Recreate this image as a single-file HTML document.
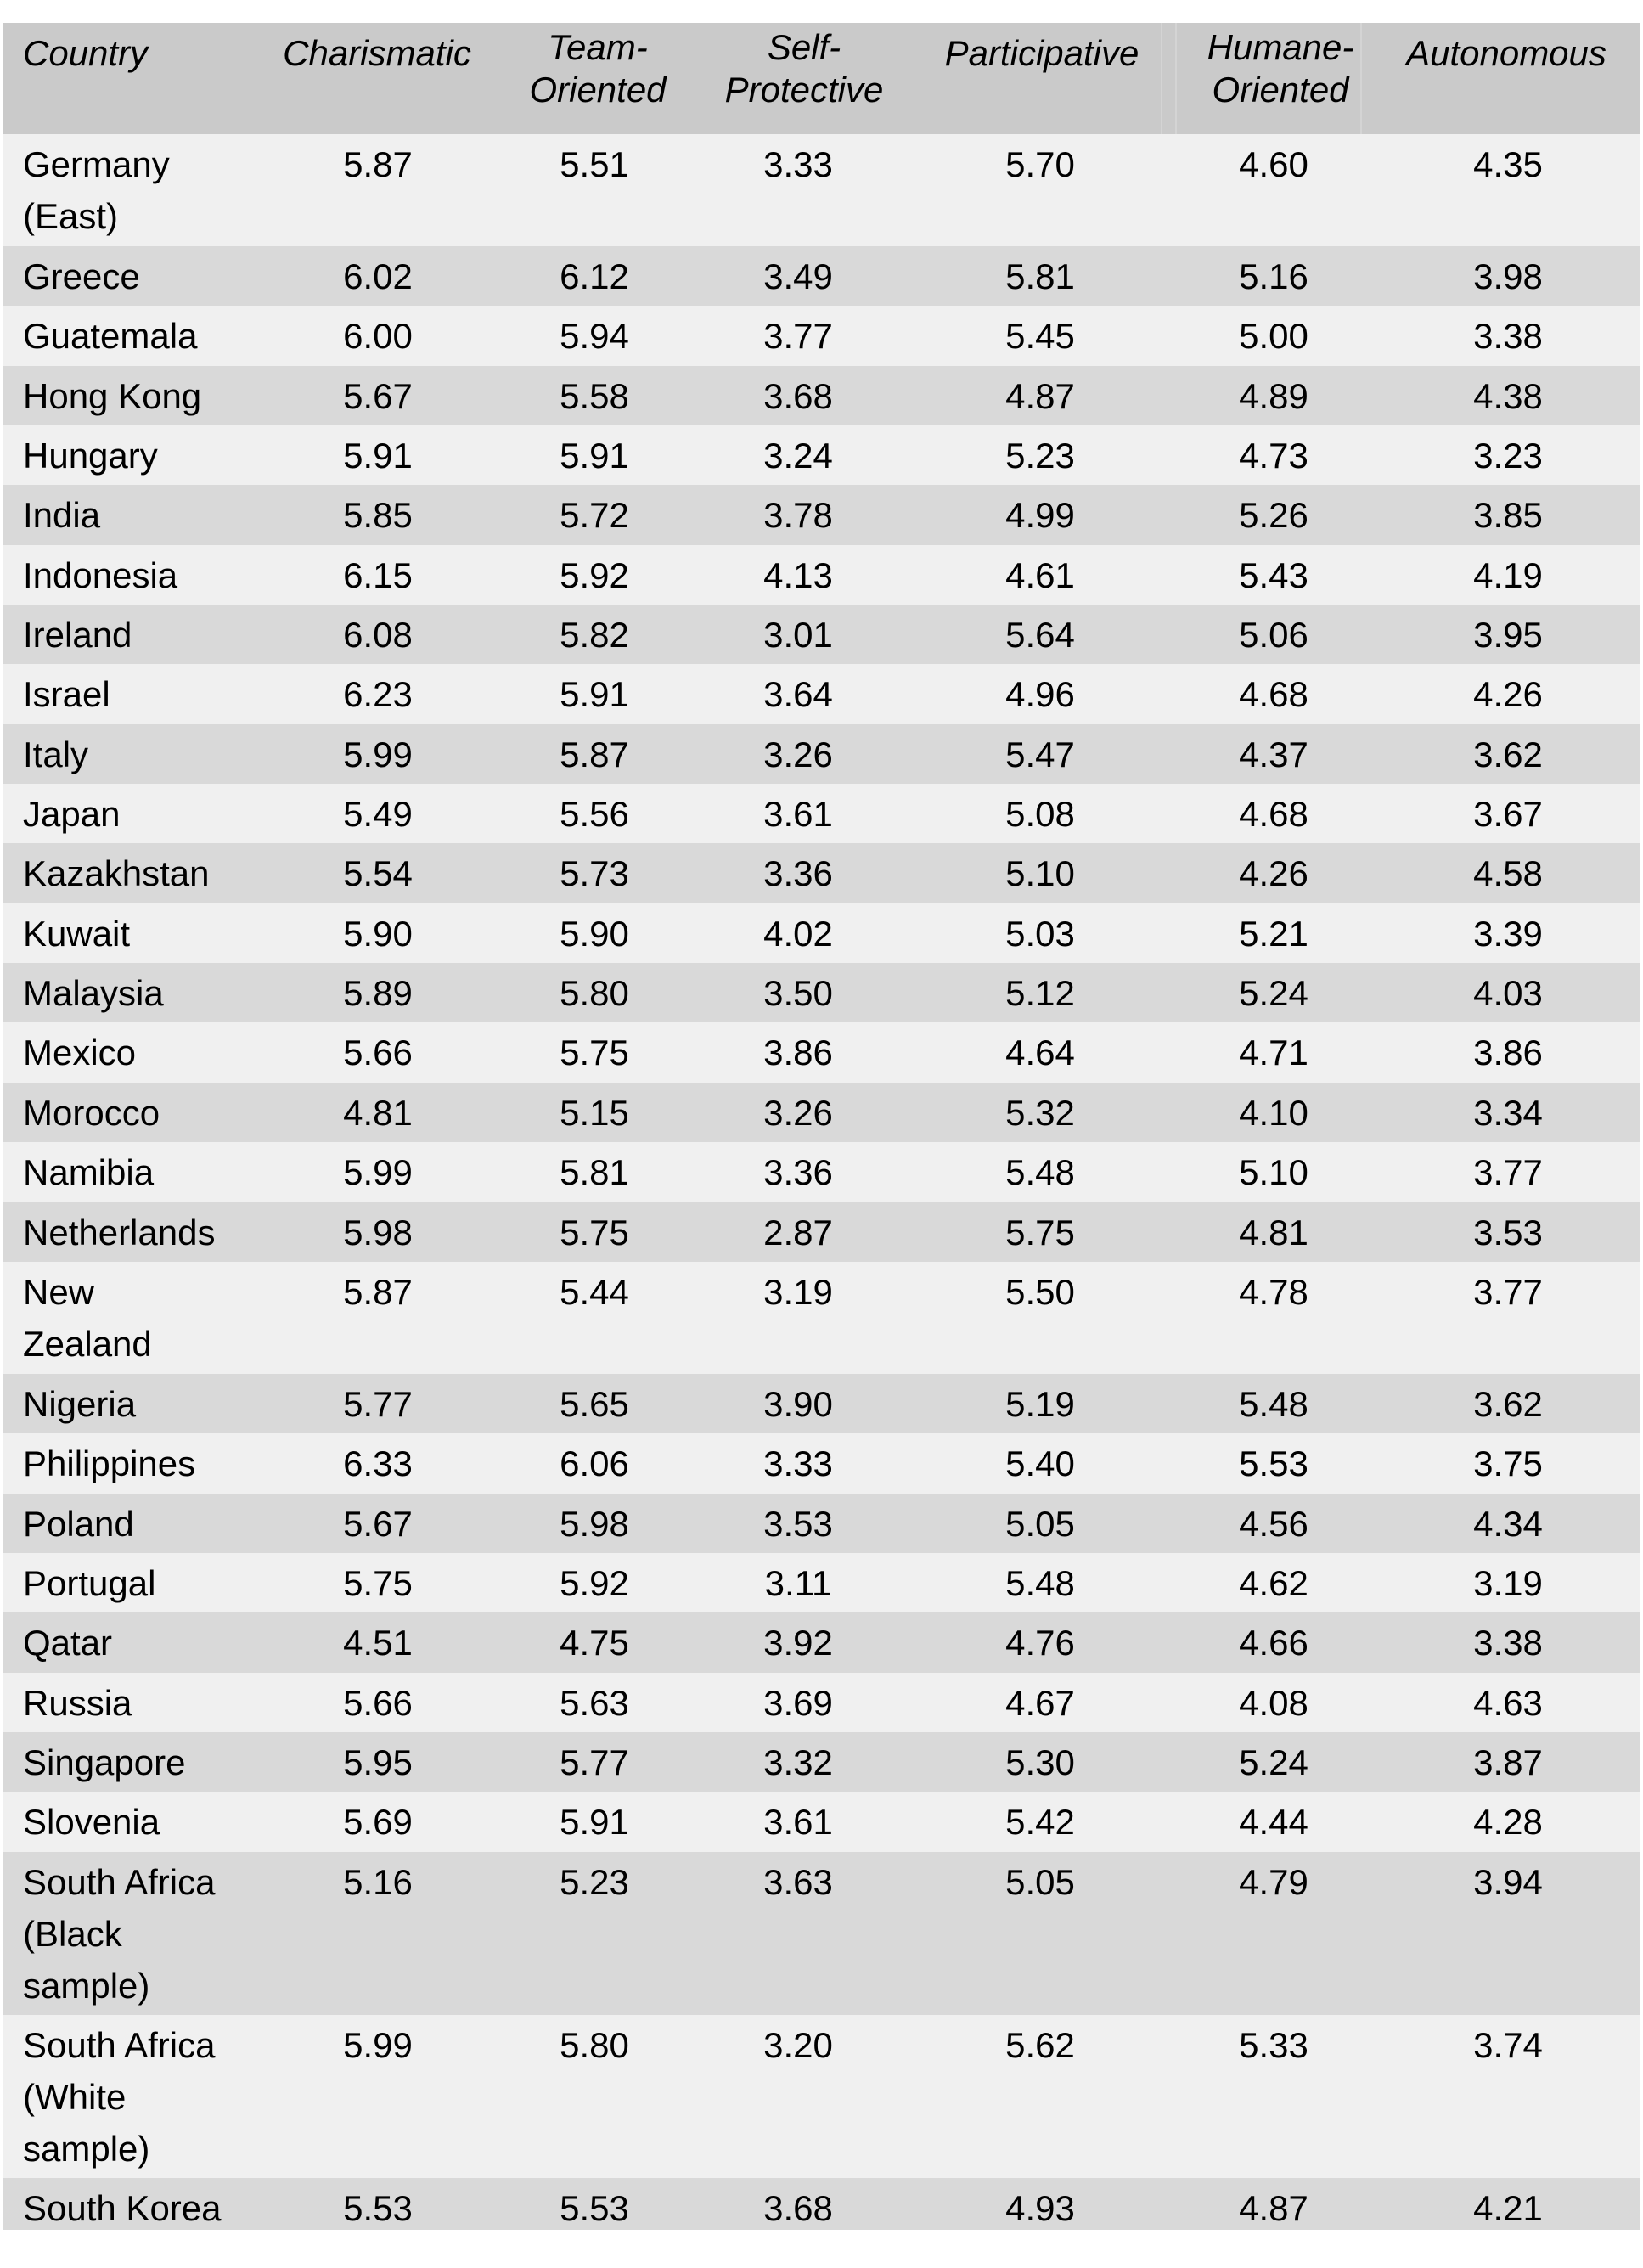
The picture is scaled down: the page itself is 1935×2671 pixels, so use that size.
<!DOCTYPE html>
<html><head><meta charset="utf-8"><style>
html,body{margin:0;padding:0;background:#fff;}
body{width:1935px;height:2671px;position:relative;overflow:hidden;font-family:"Liberation Sans",sans-serif;color:#000;}
.tbl{position:absolute;left:4px;top:27px;width:1928px;}
.hd{height:131px;background:#cacaca;position:relative;font-style:italic;font-size:42px;line-height:50px;}
.hd span{position:absolute;text-align:center;width:300px;}
.r{position:relative;font-size:42px;line-height:61px;}
.r .c{position:absolute;left:23px;top:5px;}
.r .v{position:absolute;top:5px;width:200px;text-align:center;}
.l{background:#f0f0f0}.d{background:#d9d9d9}
</style></head><body>
<div class="tbl">
<div class="hd">
<span style="left:23px;top:11px;text-align:left">Country</span>
<span style="left:290px;top:11px">Charismatic</span>
<span style="left:550px;top:4px">Team-<br>Oriented</span>
<span style="left:793px;top:4px">Self-<br>Protective</span>
<span style="left:1073px;top:11px">Participative</span>
<span style="left:1354px;top:4px">Humane-<br>Oriented</span>
<span style="left:1620px;top:11px">Autonomous</span>
<div style="position:absolute;left:1363px;top:0;width:2px;height:131px;background:#d4d4d4"></div>
<div style="position:absolute;left:1380px;top:0;width:2px;height:131px;background:#d4d4d4"></div>
<div style="position:absolute;left:1598px;top:0;width:2px;height:131px;background:#d4d4d4"></div>
</div>
</div>
<div class="tbl" style="top:158px">
<div class="r l" style="height:132px"><span class="c">Germany<br>(East)</span><span class="v" style="left:341px">5.87</span><span class="v" style="left:596px">5.51</span><span class="v" style="left:836px">3.33</span><span class="v" style="left:1121px">5.70</span><span class="v" style="left:1396px">4.60</span><span class="v" style="left:1672px">4.35</span></div>
<div class="r d" style="height:70.35px"><span class="c">Greece</span><span class="v" style="left:341px">6.02</span><span class="v" style="left:596px">6.12</span><span class="v" style="left:836px">3.49</span><span class="v" style="left:1121px">5.81</span><span class="v" style="left:1396px">5.16</span><span class="v" style="left:1672px">3.98</span></div>
<div class="r l" style="height:70.35px"><span class="c">Guatemala</span><span class="v" style="left:341px">6.00</span><span class="v" style="left:596px">5.94</span><span class="v" style="left:836px">3.77</span><span class="v" style="left:1121px">5.45</span><span class="v" style="left:1396px">5.00</span><span class="v" style="left:1672px">3.38</span></div>
<div class="r d" style="height:70.35px"><span class="c">Hong Kong</span><span class="v" style="left:341px">5.67</span><span class="v" style="left:596px">5.58</span><span class="v" style="left:836px">3.68</span><span class="v" style="left:1121px">4.87</span><span class="v" style="left:1396px">4.89</span><span class="v" style="left:1672px">4.38</span></div>
<div class="r l" style="height:70.35px"><span class="c">Hungary</span><span class="v" style="left:341px">5.91</span><span class="v" style="left:596px">5.91</span><span class="v" style="left:836px">3.24</span><span class="v" style="left:1121px">5.23</span><span class="v" style="left:1396px">4.73</span><span class="v" style="left:1672px">3.23</span></div>
<div class="r d" style="height:70.35px"><span class="c">India</span><span class="v" style="left:341px">5.85</span><span class="v" style="left:596px">5.72</span><span class="v" style="left:836px">3.78</span><span class="v" style="left:1121px">4.99</span><span class="v" style="left:1396px">5.26</span><span class="v" style="left:1672px">3.85</span></div>
<div class="r l" style="height:70.35px"><span class="c">Indonesia</span><span class="v" style="left:341px">6.15</span><span class="v" style="left:596px">5.92</span><span class="v" style="left:836px">4.13</span><span class="v" style="left:1121px">4.61</span><span class="v" style="left:1396px">5.43</span><span class="v" style="left:1672px">4.19</span></div>
<div class="r d" style="height:70.35px"><span class="c">Ireland</span><span class="v" style="left:341px">6.08</span><span class="v" style="left:596px">5.82</span><span class="v" style="left:836px">3.01</span><span class="v" style="left:1121px">5.64</span><span class="v" style="left:1396px">5.06</span><span class="v" style="left:1672px">3.95</span></div>
<div class="r l" style="height:70.35px"><span class="c">Israel</span><span class="v" style="left:341px">6.23</span><span class="v" style="left:596px">5.91</span><span class="v" style="left:836px">3.64</span><span class="v" style="left:1121px">4.96</span><span class="v" style="left:1396px">4.68</span><span class="v" style="left:1672px">4.26</span></div>
<div class="r d" style="height:70.35px"><span class="c">Italy</span><span class="v" style="left:341px">5.99</span><span class="v" style="left:596px">5.87</span><span class="v" style="left:836px">3.26</span><span class="v" style="left:1121px">5.47</span><span class="v" style="left:1396px">4.37</span><span class="v" style="left:1672px">3.62</span></div>
<div class="r l" style="height:70.35px"><span class="c">Japan</span><span class="v" style="left:341px">5.49</span><span class="v" style="left:596px">5.56</span><span class="v" style="left:836px">3.61</span><span class="v" style="left:1121px">5.08</span><span class="v" style="left:1396px">4.68</span><span class="v" style="left:1672px">3.67</span></div>
<div class="r d" style="height:70.35px"><span class="c">Kazakhstan</span><span class="v" style="left:341px">5.54</span><span class="v" style="left:596px">5.73</span><span class="v" style="left:836px">3.36</span><span class="v" style="left:1121px">5.10</span><span class="v" style="left:1396px">4.26</span><span class="v" style="left:1672px">4.58</span></div>
<div class="r l" style="height:70.35px"><span class="c">Kuwait</span><span class="v" style="left:341px">5.90</span><span class="v" style="left:596px">5.90</span><span class="v" style="left:836px">4.02</span><span class="v" style="left:1121px">5.03</span><span class="v" style="left:1396px">5.21</span><span class="v" style="left:1672px">3.39</span></div>
<div class="r d" style="height:70.35px"><span class="c">Malaysia</span><span class="v" style="left:341px">5.89</span><span class="v" style="left:596px">5.80</span><span class="v" style="left:836px">3.50</span><span class="v" style="left:1121px">5.12</span><span class="v" style="left:1396px">5.24</span><span class="v" style="left:1672px">4.03</span></div>
<div class="r l" style="height:70.35px"><span class="c">Mexico</span><span class="v" style="left:341px">5.66</span><span class="v" style="left:596px">5.75</span><span class="v" style="left:836px">3.86</span><span class="v" style="left:1121px">4.64</span><span class="v" style="left:1396px">4.71</span><span class="v" style="left:1672px">3.86</span></div>
<div class="r d" style="height:70.35px"><span class="c">Morocco</span><span class="v" style="left:341px">4.81</span><span class="v" style="left:596px">5.15</span><span class="v" style="left:836px">3.26</span><span class="v" style="left:1121px">5.32</span><span class="v" style="left:1396px">4.10</span><span class="v" style="left:1672px">3.34</span></div>
<div class="r l" style="height:70.35px"><span class="c">Namibia</span><span class="v" style="left:341px">5.99</span><span class="v" style="left:596px">5.81</span><span class="v" style="left:836px">3.36</span><span class="v" style="left:1121px">5.48</span><span class="v" style="left:1396px">5.10</span><span class="v" style="left:1672px">3.77</span></div>
<div class="r d" style="height:70.35px"><span class="c">Netherlands</span><span class="v" style="left:341px">5.98</span><span class="v" style="left:596px">5.75</span><span class="v" style="left:836px">2.87</span><span class="v" style="left:1121px">5.75</span><span class="v" style="left:1396px">4.81</span><span class="v" style="left:1672px">3.53</span></div>
<div class="r l" style="height:132px"><span class="c">New<br>Zealand</span><span class="v" style="left:341px">5.87</span><span class="v" style="left:596px">5.44</span><span class="v" style="left:836px">3.19</span><span class="v" style="left:1121px">5.50</span><span class="v" style="left:1396px">4.78</span><span class="v" style="left:1672px">3.77</span></div>
<div class="r d" style="height:70.35px"><span class="c">Nigeria</span><span class="v" style="left:341px">5.77</span><span class="v" style="left:596px">5.65</span><span class="v" style="left:836px">3.90</span><span class="v" style="left:1121px">5.19</span><span class="v" style="left:1396px">5.48</span><span class="v" style="left:1672px">3.62</span></div>
<div class="r l" style="height:70.35px"><span class="c">Philippines</span><span class="v" style="left:341px">6.33</span><span class="v" style="left:596px">6.06</span><span class="v" style="left:836px">3.33</span><span class="v" style="left:1121px">5.40</span><span class="v" style="left:1396px">5.53</span><span class="v" style="left:1672px">3.75</span></div>
<div class="r d" style="height:70.35px"><span class="c">Poland</span><span class="v" style="left:341px">5.67</span><span class="v" style="left:596px">5.98</span><span class="v" style="left:836px">3.53</span><span class="v" style="left:1121px">5.05</span><span class="v" style="left:1396px">4.56</span><span class="v" style="left:1672px">4.34</span></div>
<div class="r l" style="height:70.35px"><span class="c">Portugal</span><span class="v" style="left:341px">5.75</span><span class="v" style="left:596px">5.92</span><span class="v" style="left:836px">3.11</span><span class="v" style="left:1121px">5.48</span><span class="v" style="left:1396px">4.62</span><span class="v" style="left:1672px">3.19</span></div>
<div class="r d" style="height:70.35px"><span class="c">Qatar</span><span class="v" style="left:341px">4.51</span><span class="v" style="left:596px">4.75</span><span class="v" style="left:836px">3.92</span><span class="v" style="left:1121px">4.76</span><span class="v" style="left:1396px">4.66</span><span class="v" style="left:1672px">3.38</span></div>
<div class="r l" style="height:70.35px"><span class="c">Russia</span><span class="v" style="left:341px">5.66</span><span class="v" style="left:596px">5.63</span><span class="v" style="left:836px">3.69</span><span class="v" style="left:1121px">4.67</span><span class="v" style="left:1396px">4.08</span><span class="v" style="left:1672px">4.63</span></div>
<div class="r d" style="height:70.35px"><span class="c">Singapore</span><span class="v" style="left:341px">5.95</span><span class="v" style="left:596px">5.77</span><span class="v" style="left:836px">3.32</span><span class="v" style="left:1121px">5.30</span><span class="v" style="left:1396px">5.24</span><span class="v" style="left:1672px">3.87</span></div>
<div class="r l" style="height:70.35px"><span class="c">Slovenia</span><span class="v" style="left:341px">5.69</span><span class="v" style="left:596px">5.91</span><span class="v" style="left:836px">3.61</span><span class="v" style="left:1121px">5.42</span><span class="v" style="left:1396px">4.44</span><span class="v" style="left:1672px">4.28</span></div>
<div class="r d" style="height:192px"><span class="c">South Africa<br>(Black<br>sample)</span><span class="v" style="left:341px">5.16</span><span class="v" style="left:596px">5.23</span><span class="v" style="left:836px">3.63</span><span class="v" style="left:1121px">5.05</span><span class="v" style="left:1396px">4.79</span><span class="v" style="left:1672px">3.94</span></div>
<div class="r l" style="height:192px"><span class="c">South Africa<br>(White<br>sample)</span><span class="v" style="left:341px">5.99</span><span class="v" style="left:596px">5.80</span><span class="v" style="left:836px">3.20</span><span class="v" style="left:1121px">5.62</span><span class="v" style="left:1396px">5.33</span><span class="v" style="left:1672px">3.74</span></div>
<div class="r d" style="height:61px;overflow:hidden"><span class="c">South Korea</span><span class="v" style="left:341px">5.53</span><span class="v" style="left:596px">5.53</span><span class="v" style="left:836px">3.68</span><span class="v" style="left:1121px">4.93</span><span class="v" style="left:1396px">4.87</span><span class="v" style="left:1672px">4.21</span></div>
</div>
</body></html>
